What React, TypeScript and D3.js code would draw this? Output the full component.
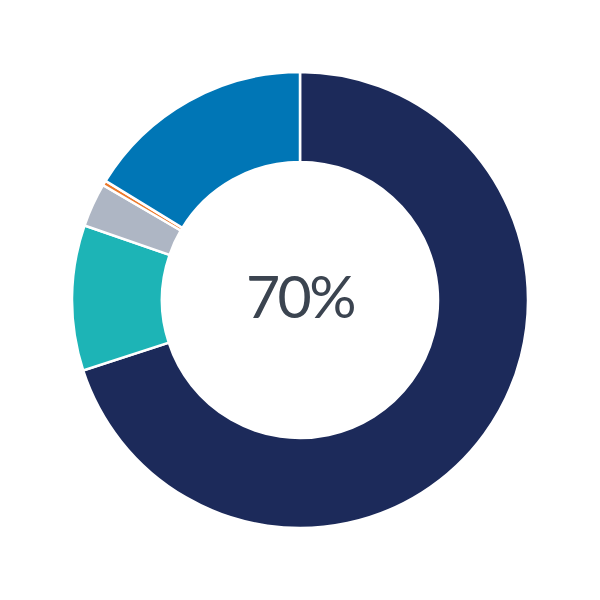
import React from "react";
import * as d3 from "d3";

const categories = ["Navy", "Teal", "Gray", "Orange", "Blue"];
const values = [70, 10.3, 3.1, 0.35, 16.25];
const colors = ["#1c2a5a", "#1db4b6", "#aeb6c4", "#ec7a2c", "#0076b6"];
const centerLabel = "70%";

export default function App() {
  const width = 600;
  const height = 600;
  const cx = 300;
  const cy = 300;
  const outerR = 228;
  const innerR = 138;
  const pie = d3.pie<number>().sort(null).value((d) => d);
  const arcs = pie(values);
  const arc = d3.arc<d3.PieArcDatum<number>>().innerRadius(innerR).outerRadius(outerR);
  return (
    <svg width={width} height={height} style={{ position: "absolute", left: 0, top: 0, background: "#fff" }}>
      <g transform={`translate(${cx},${cy})`}>
        {arcs.map((a, i) => (
          <path key={categories[i]} d={arc(a) || ""} fill={colors[i]} stroke="#fff" strokeWidth={2.5} />
        ))}
        <text
          x={0}
          y={18}
          textAnchor="middle"
          fontFamily="Lato, 'Open Sans', sans-serif"
          fontSize={59}
          letterSpacing={-2.5}
          fill="#3b4450"
        >
          {centerLabel}
        </text>
      </g>
    </svg>
  );
}
